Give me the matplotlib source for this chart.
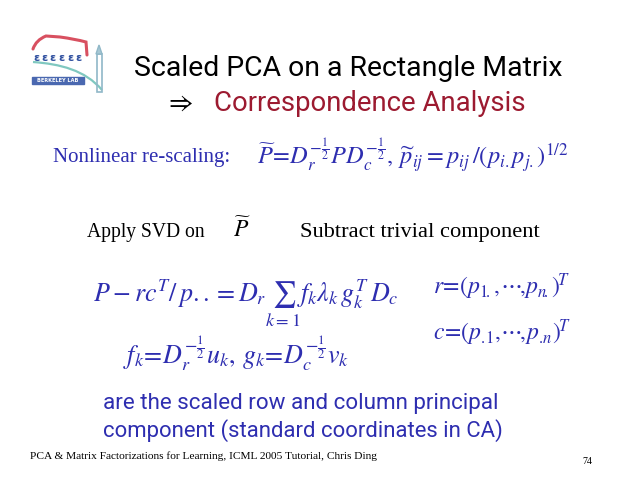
import matplotlib
matplotlib.use("Agg")
import matplotlib.pyplot as plt
from matplotlib.patches import Rectangle, Polygon, PathPatch
from matplotlib.path import Path

plt.rcParams['mathtext.fontset'] = 'stix'

title_lines = ["Scaled PCA on a Rectangle Matrix", "Correspondence Analysis"]
rescale_label = "Nonlinear re-scaling:"
rescale_eq = r"$\widetilde{P}\!=\!D_r^{-\frac{1}{2}}PD_c^{-\frac{1}{2}},\,\widetilde{p}_{ij}=p_{ij}\,/(p_{i.}p_{j.})^{1/2}$"
svd_text = "Apply SVD on"
svd_sym = r"$\widetilde{P}$"
trivial_text = "Subtract trivial component"
main_eq = r"$P-rc^T/\,p..=D_r\sum_{k=1}f_k\lambda_k\,g_k^T\,D_c$"
r_eq = r"$r\!=\!(p_{1\!.},\!\cdots\!,\!p_{n\!.})^{\!T}$"
c_eq = r"$c\!=\!(p_{.\!1},\!\cdots\!,\!p_{.\!n})^{\!T}$"
fg_eq = r"$f_k\!=\!D_r^{-\frac{1}{2}}u_k,\,g_k\!=\!D_c^{-\frac{1}{2}}v_k$"
desc_lines = ["are the scaled row and column principal", "component (standard coordinates in CA)"]
footer = "PCA & Matrix Factorizations for Learning, ICML 2005 Tutorial, Chris Ding"
page = "74"

BLUE = "#2e2eb0"
RED = "#9c1a30"

fig = plt.figure(figsize=(6.38, 4.93), dpi=100)
ax = fig.add_axes([0, 0, 1, 1])
ax.set_xlim(0, 638)
ax.set_ylim(493, 0)
ax.axis('off')
renderer = fig.canvas.get_renderer()


def fit(x0, x1, y, s, fs0=16, **kw):
    t = ax.text(x0, y, s, fontsize=fs0, va='baseline', ha='left', **kw)
    w = t.get_window_extent(renderer).width
    t.set_fontsize(fs0 * (x1 - x0) / w)
    return t


# logo
dome = Path([(33, 49), (36, 40), (46, 36), (60, 37), (75, 39), (86, 42), (87, 55)],
            [Path.MOVETO, Path.CURVE3, Path.CURVE3, Path.LINETO, Path.CURVE3, Path.CURVE3, Path.LINETO])
ax.add_patch(PathPatch(dome, fill=False, edgecolor="#d85060", lw=2.2, capstyle='round'))
for i in range(6):
    ax.text(36 + i * 8.5, 58, "ɛ", color="#3050a0", fontsize=8, fontweight='bold',
            ha='center', va='center')
swoosh = Path([(33, 62), (60, 64), (85, 70), (102, 90)], [Path.MOVETO, Path.CURVE4, Path.CURVE4, Path.CURVE4])
ax.add_patch(PathPatch(swoosh, fill=False, edgecolor="#80c8c0", lw=1.6))
ax.add_patch(Rectangle((32, 77), 52, 7, color="#4a68b0"))
ax.text(58, 80.5, "BERKELEY LAB", color="white", fontsize=3.6, ha='center', va='center',
        fontweight='bold')
ax.add_patch(Rectangle((96.5, 54), 5, 38, facecolor="none", edgecolor="#90b8c8", lw=1.2))
ax.add_patch(Polygon([[96, 54], [99, 45], [102, 54]], facecolor="#a8c8d4", edgecolor="#90b8c8"))

# title
fit(134, 562, 76, title_lines[0], 20, color="black", family='Roboto')
ax.text(179.5, 103, r"$\Rightarrow$", fontsize=19, color="black", ha='center', va='center')
fit(214, 525, 111, title_lines[1], 20, color=RED, family='Roboto')

# rescaling line
fit(53, 231, 162, rescale_label, 15, color=BLUE, family='Liberation Serif')
fit(257, 568, 165, rescale_eq, 18, color=BLUE)

# svd line
fit(87, 205, 237, svd_text, 15, color="black", family='Liberation Serif')
fit(233, 251, 237, svd_sym, 18, color="black")
fit(300, 540, 237, trivial_text, 15, color="black", family='Liberation Serif')

# main equations
m = fit(93, 398, 302, main_eq, 18, color=BLUE)
fs_eq = m.get_fontsize()
fit(433, 570, 294, r_eq, fs_eq, color=BLUE)
fit(433, 571, 340, c_eq, fs_eq, color=BLUE)
ax.text(123, 364, fg_eq, fontsize=fs_eq, color=BLUE, va='baseline', ha='left')

# description
fit(103, 498, 409, desc_lines[0], 16, color=BLUE, family='Roboto')
fit(103, 503, 437, desc_lines[1], 16, color=BLUE, family='Roboto')

# footer
fit(30, 381, 459, footer, 9.5, color="black", family='Liberation Serif')
fit(582, 592, 464, page, 9.5, color="black", family='Liberation Serif')

fig.savefig("out.png", dpi=100, facecolor="white")
